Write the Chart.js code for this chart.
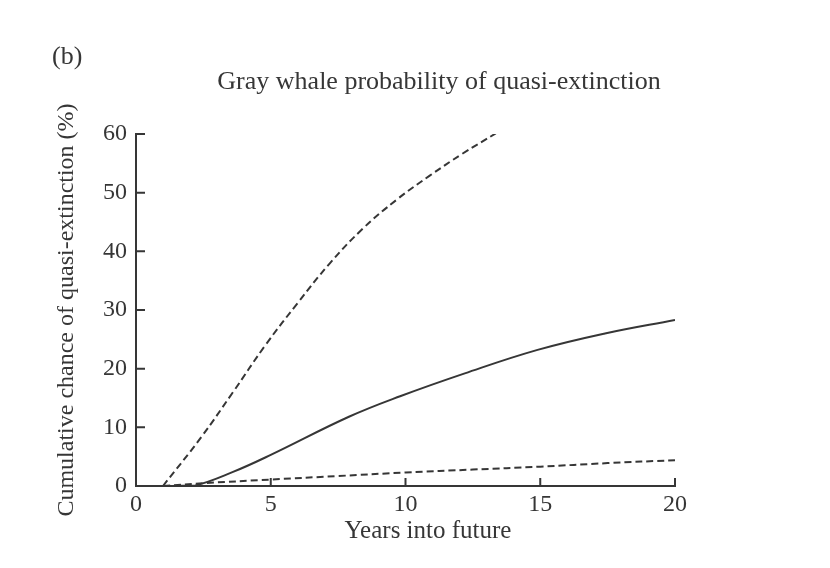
<!DOCTYPE html>
<html>
<head>
<meta charset="utf-8">
<title>Gray whale probability of quasi-extinction</title>
<script src="https://cdn.jsdelivr.net/npm/chart.js@4.4.1/dist/chart.umd.min.js"></script>
<style>
  html, body { margin: 0; padding: 0; background: #fff; }
  #wrap { width: 830px; height: 568px; }
</style>
</head>
<body>
<div id="wrap"><canvas id="chart" width="830" height="568"></canvas></div>
<script>
// values (years into future, cumulative % chance)
const upperYears = [1, 2.4, 3.6, 4.8, 6, 7.2, 8.4, 9.7, 10.9, 12.1, 13.35];
const upperValues = [0, 8.2, 16, 24, 31.2, 38, 43.8, 48.9, 52.9, 56.6, 60.1];

const middleYears = [1.4, 2.2, 3.6, 5, 7.9, 9.8, 12.2, 14.9, 17.4, 20];
const middleValues = [0, 0.1, 2.4, 5.3, 11.8, 15.3, 19.2, 23.2, 26, 28.3];

const lowerYears = [1, 2.6, 5, 7.5, 10, 12.5, 15, 17.5, 20];
const lowerValues = [0, 0.5, 1.1, 1.7, 2.3, 2.8, 3.3, 3.9, 4.4];

const xTicks = [0, 5, 10, 15, 20];
const yTicks = [0, 10, 20, 30, 40, 50, 60];

const ink = '#363636';
const serif = "'Liberation Serif', 'DejaVu Serif', serif";

function toPoints(xs, ys) {
    return xs.map((x, i) => ({ x: x, y: ys[i] }));
}

// inward tick marks, panel letter, title and x-axis caption (both sit right of centre)
const figureExtras = {
    id: 'figureExtras',
    afterDraw(chart) {
        const ctx = chart.ctx;
        const xs = chart.scales.x;
        const ys = chart.scales.y;
        const area = chart.chartArea;
        ctx.save();
        ctx.strokeStyle = ink;
        ctx.lineWidth = 2;
        ctx.beginPath();
        xTicks.slice(1).forEach(v => {
            const px = xs.getPixelForValue(v);
            ctx.moveTo(px, area.bottom);
            ctx.lineTo(px, area.bottom - 8);
        });
        yTicks.slice(1).forEach(v => {
            const py = ys.getPixelForValue(v);
            ctx.moveTo(area.left, py);
            ctx.lineTo(area.left + 9, py);
        });
        ctx.stroke();

        ctx.fillStyle = ink;
        ctx.textBaseline = 'middle';
        ctx.font = '26px ' + serif;
        ctx.textAlign = 'left';
        ctx.fillText('(b)', 52, 57);
        ctx.textAlign = 'center';
        ctx.fillText('Gray whale probability of quasi-extinction', 439, 82);
        ctx.font = '25px ' + serif;
        ctx.fillText('Years into future', 428, 531);
        ctx.restore();
    }
};

const lineStyle = {
    borderColor: ink,
    borderWidth: 2,
    pointRadius: 0,
    fill: false,
    tension: 0.4
};

new Chart(document.getElementById('chart'), {
    type: 'line',
    data: {
        datasets: [
            Object.assign({ label: 'upper', data: toPoints(upperYears, upperValues), borderDash: [7, 4] }, lineStyle),
            Object.assign({ label: 'estimate', data: toPoints(middleYears, middleValues) }, lineStyle),
            Object.assign({ label: 'lower', data: toPoints(lowerYears, lowerValues), borderDash: [7, 4] }, lineStyle)
        ]
    },
    options: {
        responsive: false,
        animation: false,
        layout: { padding: { left: 40, right: 155, top: 134, bottom: 10 } },
        plugins: {
            legend: { display: false },
            tooltip: { enabled: false },
            title: { display: false }
        },
        scales: {
            x: {
                type: 'linear',
                min: 0,
                max: 20,
                afterBuildTicks: axis => { axis.ticks = xTicks.map(v => ({ value: v })); },
                afterFit: axis => { axis.height = 568 - 486 - 10; },
                grid: { display: true, drawOnChartArea: false, drawTicks: false },
                border: { display: true, color: ink, width: 2 },
                ticks: { color: ink, padding: 4, maxRotation: 0, font: { family: serif, size: 24 } },
                title: { display: false }
            },
            y: {
                min: 0,
                max: 60,
                afterBuildTicks: axis => { axis.ticks = yTicks.map(v => ({ value: v })); },
                afterFit: axis => { axis.width = 136 - 40; },
                grid: { display: true, drawOnChartArea: false, drawTicks: false },
                border: { display: true, color: ink, width: 2 },
                ticks: { color: ink, padding: 9, font: { family: serif, size: 24 } },
                title: {
                    display: true,
                    text: 'Cumulative chance of quasi-extinction (%)',
                    color: ink,
                    font: { family: serif, size: 24 },
                    padding: { top: 12, bottom: 0 }
                }
            }
        }
    },
    plugins: [figureExtras]
});
</script>
</body>
</html>
